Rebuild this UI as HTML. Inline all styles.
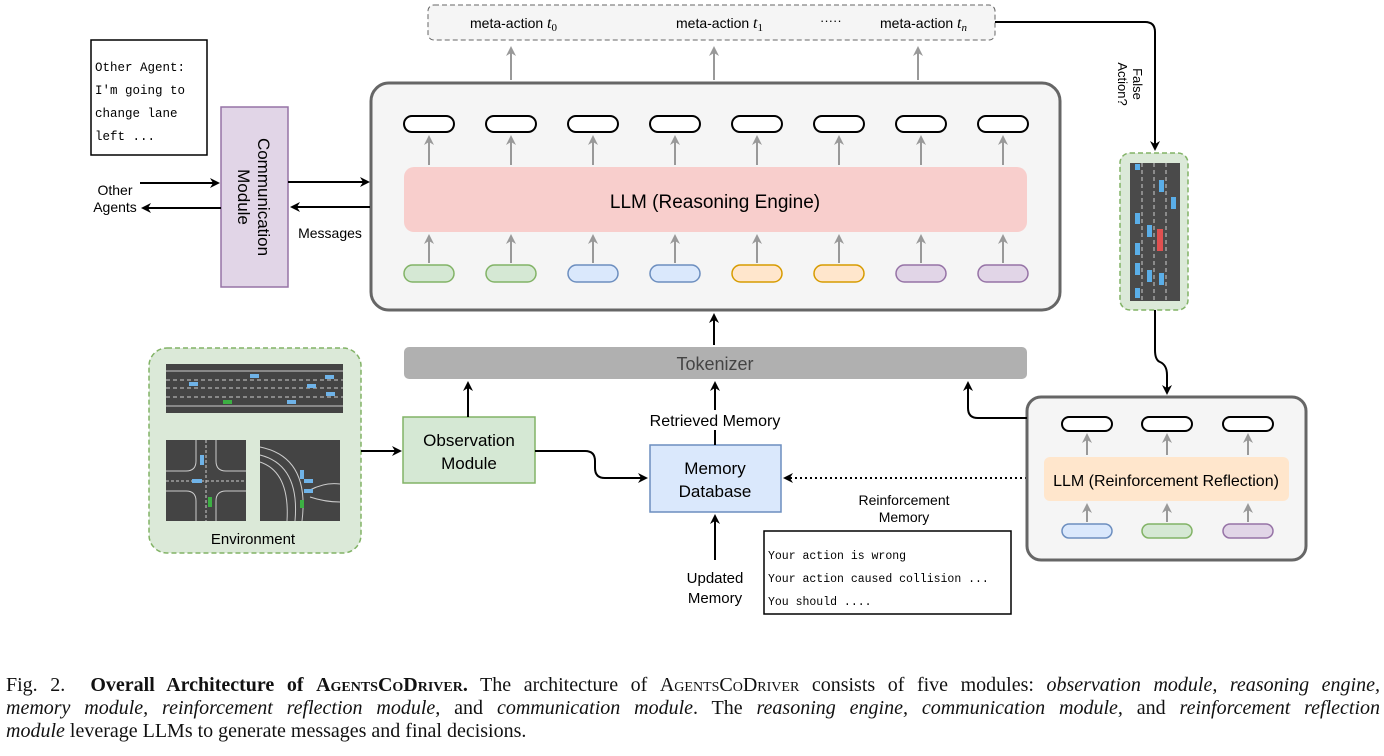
<!DOCTYPE html>
<html><head><meta charset="utf-8"><style>
body{margin:0;background:#fff;width:1384px;height:756px;overflow:hidden;position:relative;font-family:"Liberation Sans",sans-serif}
.cap{position:absolute;left:6px;width:1374px;font-family:"Liberation Serif",serif;font-size:20px;line-height:23px;text-align:justify;text-align-last:justify;white-space:nowrap;color:#111}
.sc{font-variant:small-caps}
</style></head><body>
<svg width="1384" height="660" style="position:absolute;left:0;top:0" font-family="Liberation Sans, sans-serif">
<defs>
<marker id="ab" markerWidth="10" markerHeight="10" refX="8" refY="5" orient="auto" markerUnits="userSpaceOnUse"><path d="M0,0 L10,5 L0,10 L3,5 z" fill="#000"/></marker>
<marker id="ag" markerWidth="10" markerHeight="10" refX="8" refY="5" orient="auto" markerUnits="userSpaceOnUse"><path d="M0,0 L10,5 L0,10 L3,5 z" fill="#999"/></marker>
</defs>
<!-- top meta box -->
<rect x="428" y="5" width="567" height="35" rx="6" fill="#f5f5f5" stroke="#666" stroke-dasharray="5,3"/>
<text x="470" y="28" font-size="14">meta-action <tspan font-family="Liberation Serif" font-style="italic" font-size="16">t</tspan><tspan font-family="Liberation Serif" font-size="11" dy="3">0</tspan></text>
<text x="676" y="28" font-size="14">meta-action <tspan font-family="Liberation Serif" font-style="italic" font-size="16">t</tspan><tspan font-family="Liberation Serif" font-size="11" dy="3">1</tspan></text>
<text x="820" y="25" font-size="13">·····</text>
<text x="880" y="28" font-size="14">meta-action <tspan font-family="Liberation Serif" font-style="italic" font-size="16">t</tspan><tspan font-family="Liberation Serif" font-style="italic" font-size="11" dy="3">n</tspan></text>
<g stroke="#999" stroke-width="2" marker-end="url(#ag)">
<line x1="511" y1="80" x2="511" y2="48"/><line x1="714" y1="80" x2="714" y2="48"/><line x1="918" y1="80" x2="918" y2="48"/>
</g>
<!-- main box -->
<rect x="371" y="83" width="689" height="227" rx="18" fill="#f5f5f5" stroke="#666" stroke-width="3"/>
<g fill="#fff" stroke="#000" stroke-width="2">
<rect x="404" y="116" width="50" height="16" rx="8"/><rect x="486" y="116" width="50" height="16" rx="8"/><rect x="568" y="116" width="50" height="16" rx="8"/><rect x="650" y="116" width="50" height="16" rx="8"/><rect x="732" y="116" width="50" height="16" rx="8"/><rect x="814" y="116" width="50" height="16" rx="8"/><rect x="896" y="116" width="50" height="16" rx="8"/><rect x="978" y="116" width="50" height="16" rx="8"/>
</g>
<rect x="404" y="167" width="623" height="65" rx="10" fill="#f8cecc"/>
<text x="715" y="208" font-size="19" text-anchor="middle">LLM (Reasoning Engine)</text>
<g stroke="#999" stroke-width="2" marker-end="url(#ag)">
<line x1="429" y1="165" x2="429" y2="137"/><line x1="511" y1="165" x2="511" y2="137"/><line x1="593" y1="165" x2="593" y2="137"/><line x1="675" y1="165" x2="675" y2="137"/><line x1="757" y1="165" x2="757" y2="137"/><line x1="839" y1="165" x2="839" y2="137"/><line x1="921" y1="165" x2="921" y2="137"/><line x1="1003" y1="165" x2="1003" y2="137"/>
<line x1="429" y1="263" x2="429" y2="236"/><line x1="511" y1="263" x2="511" y2="236"/><line x1="593" y1="263" x2="593" y2="236"/><line x1="675" y1="263" x2="675" y2="236"/><line x1="757" y1="263" x2="757" y2="236"/><line x1="839" y1="263" x2="839" y2="236"/><line x1="921" y1="263" x2="921" y2="236"/><line x1="1003" y1="263" x2="1003" y2="236"/>
</g>
<g stroke-width="1.5">
<rect x="404" y="265" width="50" height="17" rx="8.5" fill="#d5e8d4" stroke="#82b366"/><rect x="486" y="265" width="50" height="17" rx="8.5" fill="#d5e8d4" stroke="#82b366"/>
<rect x="568" y="265" width="50" height="17" rx="8.5" fill="#dae8fc" stroke="#6c8ebf"/><rect x="650" y="265" width="50" height="17" rx="8.5" fill="#dae8fc" stroke="#6c8ebf"/>
<rect x="732" y="265" width="50" height="17" rx="8.5" fill="#ffe6cc" stroke="#d79b00"/><rect x="814" y="265" width="50" height="17" rx="8.5" fill="#ffe6cc" stroke="#d79b00"/>
<rect x="896" y="265" width="50" height="17" rx="8.5" fill="#e1d5e7" stroke="#9673a6"/><rect x="978" y="265" width="50" height="17" rx="8.5" fill="#e1d5e7" stroke="#9673a6"/>
</g>
<!-- tokenizer -->
<rect x="404" y="347" width="623" height="32" rx="5" fill="#b0b0b0"/>
<text x="715" y="370" font-size="18" text-anchor="middle" fill="#444">Tokenizer</text>
<line x1="714" y1="345" x2="714" y2="315" stroke="#000" stroke-width="2" marker-end="url(#ab)"/>
<!-- other agent box -->
<rect x="91" y="40" width="116" height="115" fill="#fff" stroke="#000" stroke-width="1.5"/>
<g font-family="Liberation Mono, monospace" font-size="12.5">
<text x="95" y="71">Other Agent:</text><text x="95" y="94">I'm going to</text><text x="95" y="117">change lane</text><text x="95" y="140">left ...</text></g>
<!-- comm module -->
<rect x="221" y="107" width="67" height="180" fill="#e1d5e7" stroke="#9673a6" stroke-width="1.5"/>
<text transform="translate(254,197) rotate(90)" font-size="17" text-anchor="middle"><tspan x="0" dy="-4">Communication</tspan><tspan x="0" dy="20">Module</tspan></text>
<g stroke="#000" stroke-width="2">
<line x1="140" y1="183" x2="218" y2="183" marker-end="url(#ab)"/>
<line x1="221" y1="208" x2="143" y2="208" marker-end="url(#ab)"/>
<line x1="288" y1="182" x2="368" y2="182" marker-end="url(#ab)"/>
<line x1="370" y1="207" x2="292" y2="207" marker-end="url(#ab)"/>
</g>
<text x="115" y="195" font-size="14" text-anchor="middle">Other</text>
<text x="115" y="212" font-size="14" text-anchor="middle">Agents</text>
<text x="330" y="238" font-size="14" text-anchor="middle">Messages</text>
<!-- environment -->
<rect x="149" y="348" width="212" height="205" rx="18" fill="#dbe9d8" stroke="#82b366" stroke-dasharray="5,3" stroke-width="1.5"/>
<rect x="166" y="364" width="177" height="49" fill="#444"/>
<g stroke="#ccc" stroke-width="1"><line x1="166" y1="371" x2="343" y2="371"/><line x1="166" y1="406" x2="343" y2="406"/></g>
<g stroke="#ccc" stroke-width="1" stroke-dasharray="4,3"><line x1="166" y1="380" x2="343" y2="380"/><line x1="166" y1="388" x2="343" y2="388"/><line x1="166" y1="397" x2="343" y2="397"/></g>
<g fill="#6fb3e8"><rect x="189" y="382" width="9" height="4"/><rect x="250" y="374" width="9" height="4"/><rect x="307" y="384" width="9" height="4"/><rect x="325" y="375" width="9" height="4"/><rect x="326" y="392" width="9" height="4"/><rect x="287" y="400" width="9" height="4"/></g>
<rect x="223" y="400" width="9" height="4" fill="#3cb043"/>
<rect x="166" y="440" width="80" height="81" fill="#444"/>
<g stroke="#ccc" fill="none"><path d="M166,471 h20 q10,0 10,-10 v-21 M166,491 h20 q10,0 10,10 v20 M246,471 h-20 q-10,0 -10,-10 v-21 M246,491 h-20 q-10,0 -10,10 v20"/></g>
<g stroke="#ccc" stroke-dasharray="3,2"><line x1="166" y1="481" x2="246" y2="481"/><line x1="206" y1="440" x2="206" y2="521"/></g>
<rect x="200" y="455" width="4" height="10" fill="#6fb3e8"/><rect x="192" y="479" width="10" height="4" fill="#6fb3e8"/><rect x="208" y="497" width="4" height="10" fill="#3cb043"/>
<rect x="260" y="440" width="80" height="81" fill="#444"/>
<g stroke="#ccc" fill="none"><path d="M260,447 q50,10 42,74 M260,455 q40,10 35,66 M260,462 q30,10 27,59 M310,490 q15,-8 30,-6 M310,497 q15,5 30,5"/></g>
<g fill="#6fb3e8"><rect x="300" y="470" width="4" height="9"/><rect x="304" y="479" width="9" height="4"/><rect x="304" y="489" width="9" height="4"/></g>
<rect x="300" y="500" width="4" height="8" fill="#3cb043"/>
<text x="253" y="544" font-size="15" text-anchor="middle">Environment</text>
<line x1="361" y1="451" x2="400" y2="451" stroke="#000" stroke-width="2" marker-end="url(#ab)"/>
<!-- observation -->
<rect x="403" y="417" width="132" height="66" fill="#d5e8d4" stroke="#82b366" stroke-width="1.5"/>
<text x="469" y="446" font-size="17" text-anchor="middle">Observation</text>
<text x="469" y="469" font-size="17" text-anchor="middle">Module</text>
<line x1="468" y1="417" x2="468" y2="383" stroke="#000" stroke-width="2" marker-end="url(#ab)"/>
<path d="M535,451 H585 Q595,451 595,461 V468 Q595,478 605,478 H646" fill="none" stroke="#000" stroke-width="2" marker-end="url(#ab)"/>
<!-- memory -->
<rect x="650" y="445" width="131" height="67" fill="#dae8fc" stroke="#6c8ebf" stroke-width="1.5"/>
<text x="715" y="474" font-size="17" text-anchor="middle">Memory</text>
<text x="715" y="497" font-size="17" text-anchor="middle">Database</text>
<line x1="715" y1="445" x2="715" y2="383" stroke="#000" stroke-width="2" marker-end="url(#ab)"/>
<rect x="640" y="410" width="150" height="20" fill="#fff"/>
<text x="715" y="426" font-size="16" text-anchor="middle">Retrieved Memory</text>
<line x1="715" y1="560" x2="715" y2="516" stroke="#000" stroke-width="2" marker-end="url(#ab)"/>
<text x="715" y="583" font-size="15" text-anchor="middle">Updated</text>
<text x="715" y="603" font-size="15" text-anchor="middle">Memory</text>
<line x1="1027" y1="478" x2="785" y2="478" stroke="#000" stroke-width="2" stroke-dasharray="2,3" marker-end="url(#ab)"/>
<text x="904" y="505" font-size="14" text-anchor="middle">Reinforcement</text>
<text x="904" y="522" font-size="14" text-anchor="middle">Memory</text>
<rect x="764" y="531" width="247" height="83" fill="#fff" stroke="#000" stroke-width="1.5"/>
<g font-family="Liberation Mono, monospace" font-size="11.5"><text x="768" y="559">Your action is wrong</text><text x="768" y="582">Your action caused collision ...</text><text x="768" y="605">You should ....</text></g>
<!-- reflection box -->
<rect x="1027" y="397" width="279" height="163" rx="14" fill="#f5f5f5" stroke="#666" stroke-width="3"/>
<g fill="#fff" stroke="#000" stroke-width="2"><rect x="1062" y="417" width="50" height="14" rx="7"/><rect x="1142" y="417" width="50" height="14" rx="7"/><rect x="1223" y="417" width="50" height="14" rx="7"/></g>
<rect x="1044" y="457" width="245" height="44" rx="6" fill="#ffe6cc"/>
<text x="1166" y="486" font-size="16" text-anchor="middle">LLM (Reinforcement Reflection)</text>
<g stroke="#999" stroke-width="2" marker-end="url(#ag)"><line x1="1087" y1="455" x2="1087" y2="435"/><line x1="1167" y1="455" x2="1167" y2="435"/><line x1="1248" y1="455" x2="1248" y2="435"/><line x1="1087" y1="522" x2="1087" y2="505"/><line x1="1167" y1="522" x2="1167" y2="505"/><line x1="1248" y1="522" x2="1248" y2="505"/></g>
<g stroke-width="1.5"><rect x="1062" y="524" width="50" height="14" rx="7" fill="#dae8fc" stroke="#6c8ebf"/><rect x="1142" y="524" width="50" height="14" rx="7" fill="#d5e8d4" stroke="#82b366"/><rect x="1223" y="524" width="50" height="14" rx="7" fill="#e1d5e7" stroke="#9673a6"/></g>
<path d="M1027,418 H978 Q968,418 968,408 V383" fill="none" stroke="#000" stroke-width="2" marker-end="url(#ab)"/>
<!-- top right path -->
<path d="M995,22 H1145 Q1155,22 1155,32 V149" fill="none" stroke="#000" stroke-width="2" marker-end="url(#ab)"/>
<text transform="translate(1129,84) rotate(90)" font-size="13" text-anchor="middle"><tspan x="0" dy="-4">False</tspan><tspan x="0" dy="15">Action?</tspan></text>
<rect x="1120" y="153" width="68" height="157" rx="10" fill="#dbe9d8" stroke="#82b366" stroke-dasharray="5,3" stroke-width="1.5"/>
<rect x="1130" y="163" width="50" height="138" fill="#4a4a4a"/>
<g stroke="#ccc" stroke-dasharray="4,3"><line x1="1142" y1="163" x2="1142" y2="301"/><line x1="1154" y1="163" x2="1154" y2="301"/><line x1="1166" y1="163" x2="1166" y2="301"/></g>
<g fill="#5aaee8"><rect x="1135" y="164" width="5" height="6"/><rect x="1159" y="180" width="5" height="12"/><rect x="1171" y="197" width="5" height="12"/><rect x="1135" y="213" width="5" height="11"/><rect x="1147" y="225" width="5" height="12"/><rect x="1135" y="243" width="5" height="12"/><rect x="1135" y="263" width="5" height="12"/><rect x="1147" y="270" width="5" height="12"/><rect x="1159" y="273" width="5" height="12"/><rect x="1135" y="288" width="5" height="10"/></g>
<rect x="1157" y="229" width="6" height="22" fill="#e05050"/>
<path d="M1155,310 V350 Q1155,360 1160,362 Q1167,365 1167,375 V393" fill="none" stroke="#000" stroke-width="2" marker-end="url(#ab)"/>
</svg>
<div class="cap" style="top:674px">Fig. 2.&nbsp; <b>Overall Architecture of <span class="sc">AgentsCoDriver</span>.</b> The architecture of <span class="sc">AgentsCoDriver</span> consists of five modules: <i>observation module, reasoning engine,</i></div>
<div class="cap" style="top:697px"><i>memory module, reinforcement reflection module,</i> and <i>communication module</i>. The <i>reasoning engine, communication module,</i> and <i>reinforcement reflection</i></div>
<div class="cap" style="top:720px;text-align-last:left"><i>module</i> leverage LLMs to generate messages and final decisions.</div>
</body></html>
